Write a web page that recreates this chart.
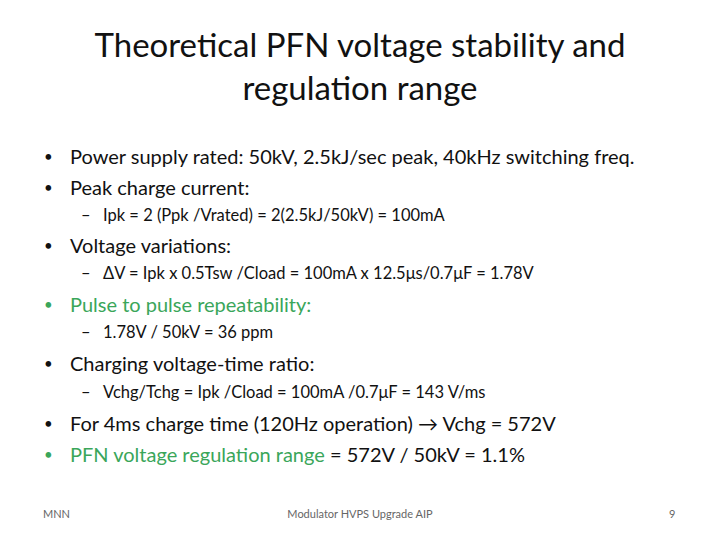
<!DOCTYPE html>
<html><head><meta charset="utf-8">
<script src="https://cdn.jsdelivr.net/npm/chart.js@4"></script>
<style>
body{margin:0;width:720px;height:540px;background:#fff;font-family:Lato,"Open Sans",sans-serif;color:#111;position:relative;overflow:hidden}
.t{position:absolute;left:0;width:720px;text-align:center;font-size:33px;line-height:43px;top:23px}
.l{position:absolute;white-space:nowrap}
.b1{font-size:20px;left:44px}
.b1 span.d{position:absolute;left:0;font-size:15px;top:3px}
.b1 span.x{position:absolute;left:26px}
.b2{font-size:16.5px;left:81px}
.b2 span.x{position:absolute;left:22px}
.g{color:#3aa65a}
.f{position:absolute;top:507px;font-size:11px;color:#666}
</style></head><body>
<div class="t">Theoretical PFN voltage stability and<br>regulation range</div>
<div id="lines"></div>
<div class="f" style="left:43px">MNN</div>
<div class="f" style="left:0;width:720px;text-align:center">Modulator HVPS Upgrade AIP</div>
<div class="f" style="left:669px">9</div>
<script>
const levels = [1,1,2,1,2,1,2,1,2,1,1];
const tops = [144,175,205,233,263,292,322,351,382,411,442];
const texts = [
 "Power supply rated: 50kV, 2.5kJ/sec peak, 40kHz switching freq.",
 "Peak charge current:",
 "Ipk = 2 (Ppk /Vrated) = 2(2.5kJ/50kV) = 100mA",
 "Voltage variations:",
 "ΔV = Ipk x 0.5Tsw /Cload = 100mA x 12.5μs/0.7μF = 1.78V",
 '<span class="g">Pulse to pulse repeatability:</span>',
 "1.78V / 50kV = 36 ppm",
 "Charging voltage-time ratio:",
 "Vchg/Tchg = Ipk /Cload = 100mA /0.7μF = 143 V/ms",
 "For 4ms charge time (120Hz operation) → Vchg = 572V",
 '<span class="g">PFN voltage regulation range</span> = 572V / 50kV = 1.1%'
];
const greenBullet = [5,10];
const box = document.getElementById('lines');
texts.forEach((t,i)=>{
  const d=document.createElement('div');
  d.className='l '+(levels[i]===1?'b1':'b2');
  d.style.top=tops[i]+'px';
  const mark=levels[i]===1?'•':'–';
  d.innerHTML='<span class="d'+(greenBullet.includes(i)?' g':'')+'">'+mark+'</span><span class="x">'+t+'</span>';
  box.appendChild(d);
});
</script>
</body></html>
